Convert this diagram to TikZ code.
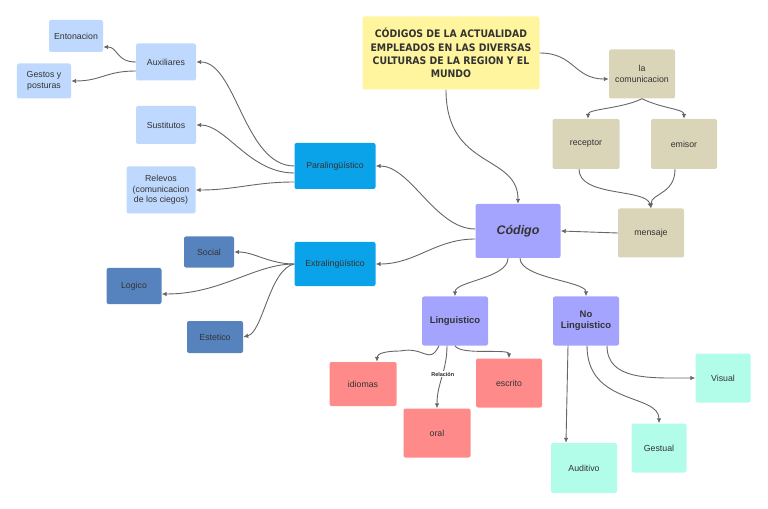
\documentclass[tikz,border=0pt]{standalone}
\usepackage{fontspec}
\setmainfont{Liberation Sans}
\newfontfamily\titlefont{DejaVu Sans Condensed Bold}
\usetikzlibrary{arrows.meta}
\definecolor{lblue}{HTML}{BFD9FE}
\definecolor{cyanbox}{HTML}{0AA2E8}
\definecolor{steel}{HTML}{5683BE}
\definecolor{tanbox}{HTML}{DAD4B8}
\definecolor{violetbox}{HTML}{A4A4FF}
\definecolor{redbox}{HTML}{FF8A8A}
\definecolor{mintbox}{HTML}{B2FCEA}
\definecolor{yellowbox}{HTML}{FFF59E}
\definecolor{edgecol}{HTML}{666666}
\tikzset{
  box/.style={rounded corners=2bp, inner sep=2bp, align=center, text=black!80,
    font=\fontsize{8.8}{10.5}\selectfont},
  lbluebox/.style={box, fill=lblue},
  cyannode/.style={box, fill=cyanbox},
  steelnode/.style={box, fill=steel},
  tannode/.style={box, fill=tanbox},
  violetnode/.style={box, fill=violetbox, font=\bfseries\fontsize{9.5}{11.5}\selectfont},
  rednode/.style={box, fill=redbox},
  mintnode/.style={box, fill=mintbox},
}
\begin{document}
\begin{tikzpicture}[x=1bp,y=-1bp,>={Latex[length=5bp,width=4.5bp]},line join=bevel]
  \useasboundingbox (0,0) rectangle (768,509);
  % Node: title
  \node[box, fill=yellowbox, minimum width=177bp, minimum height=73bp,
    font=\titlefont\fontsize{10.4}{13.5}\selectfont] (title) at (451,53)
    {CÓDIGOS DE LA ACTUALIDAD\\EMPLEADOS EN LAS DIVERSAS\\CULTURAS DE LA REGION Y EL\\MUNDO};
  % Node: comun
  \node[tannode, minimum width=66bp, minimum height=49bp] (comun) at (642,74) {la\\comunicacion};
  % Node: receptor
  \node[tannode, minimum width=67bp, minimum height=50bp] (receptor) at (586,144) {receptor};
  % Node: emisor
  \node[tannode, minimum width=66bp, minimum height=50bp] (emisor) at (684,144) {emisor};
  % Node: mensaje
  \node[tannode, minimum width=66bp, minimum height=49bp] (mensaje) at (651,233) {mensaje};
  % Node: codigo
  \node[box, fill=violetbox, minimum width=85bp, minimum height=54bp,
    font=\bfseries\itshape\fontsize{12.5}{14}\selectfont] (codigo) at (518,231) {Código};
  % Node: para
  \node[cyannode, minimum width=81bp, minimum height=46bp] (para) at (335,166) {Paralingüístico};
  % Node: extra
  \node[cyannode, minimum width=81bp, minimum height=44bp] (extra) at (335,264) {Extralingüístico};
  % Node: aux
  \node[lbluebox, minimum width=60bp, minimum height=37bp] (aux) at (166,62) {Auxiliares};
  % Node: ento
  \node[lbluebox, minimum width=54bp, minimum height=32bp] (ento) at (76,36) {Entonacion};
  % Node: gestos
  \node[lbluebox, minimum width=54bp, minimum height=35bp] (gestos) at (44,81) {Gestos y\\posturas};
  % Node: sust
  \node[lbluebox, minimum width=60bp, minimum height=38bp] (sust) at (166,125) {Sustitutos};
  % Node: relevos
  \node[lbluebox, minimum width=69bp, minimum height=47bp] (relevos) at (161,190) {Relevos\\(comunicacion\\de los ciegos)};
  % Node: social
  \node[steelnode, minimum width=50bp, minimum height=31bp] (social) at (209,252) {Social};
  % Node: logico
  \node[steelnode, minimum width=55bp, minimum height=36bp] (logico) at (134,286) {Logico};
  % Node: estetico
  \node[steelnode, minimum width=56bp, minimum height=32bp] (estetico) at (215,337) {Estetico};
  % Node: ling
  \node[violetnode, minimum width=66bp, minimum height=49bp] (ling) at (455,321) {Linguistico};
  % Node: noling
  \node[violetnode, minimum width=66bp, minimum height=49bp] (noling) at (586,321) {No\\Linguistico};
  % Node: idiomas
  \node[rednode, minimum width=67bp, minimum height=44bp] (idiomas) at (363,384) {idiomas};
  % Node: escrito
  \node[rednode, minimum width=66bp, minimum height=49bp] (escrito) at (509,383) {escrito};
  % Node: oral
  \node[rednode, minimum width=67bp, minimum height=49bp] (oral) at (437,433) {oral};
  % Node: auditivo
  \node[mintnode, minimum width=66bp, minimum height=50bp] (auditivo) at (584,468) {Auditivo};
  % Node: gestual
  \node[mintnode, minimum width=55bp, minimum height=49bp] (gestual) at (659,448) {Gestual};
  % Node: visual
  \node[mintnode, minimum width=55bp, minimum height=49bp] (visual) at (723,378) {Visual};
  %
  \begin{scope}[draw=edgecol, line width=0.9bp]
  % Edge: title -> codigo
  \draw[->] ([xshift=-5bp]title.south) .. controls +(0,80) and +(0,-50) .. (codigo.north);
  % Edge: title -> comun
  \draw[->] (title.east) .. controls +(35,0) and +(-35,0) .. ([yshift=-5bp]comun.west);
  % Edge: comun -> receptor
  \draw[->] (comun.south) .. controls +(-20,10) and +(0,-10) .. ([xshift=2bp]receptor.north);
  % Edge: comun -> emisor
  \draw[->] (comun.south) .. controls +(20,10) and +(0,-10) .. (emisor.north);
  % Edge: receptor -> mensaje
  \draw[->] ([xshift=-7bp]receptor.south) .. controls +(0,28) and +(-5,-20) .. (mensaje.north);
  % Edge: emisor -> mensaje
  \draw[->] ([xshift=-9bp]emisor.south) .. controls +(0,25) and +(0,-15) .. (mensaje.north);
  % Edge: mensaje -> codigo
  \draw[->] (mensaje.west) -- (codigo.east);
  % Edge: codigo -> para
  \draw[->] ([yshift=2bp]codigo.west) .. controls +(-40,0) and +(35,0) .. (para.east);
  % Edge: codigo -> extra
  \draw[->] ([yshift=-8bp]codigo.west) .. controls +(-40,0) and +(40,0) .. (extra.east);
  % Edge: codigo -> ling
  \draw[->] ([xshift=-10bp]codigo.south) .. controls +(0,20) and +(0,-15) .. (ling.north);
  % Edge: codigo -> noling
  \draw[->] ([xshift=2bp]codigo.south) .. controls +(0,20) and +(0,-15) .. (noling.north);
  % Edge: para -> aux
  \draw[->] (para.west) .. controls +(-50,0) and +(40,0) .. (aux.east);
  % Edge: para -> sust
  \draw[->] ([yshift=-7bp]para.west) .. controls +(-45,0) and +(30,0) .. (sust.east);
  % Edge: para -> relevos
  \draw[->] ([yshift=-16bp]para.west) .. controls +(-40,0) and +(40,0) .. (relevos.east);
  % Edge: aux -> ento
  \draw[->] (aux.west) .. controls +(-20,0) and +(15,0) .. ([yshift=-11bp]ento.east);
  % Edge: aux -> gestos
  \draw[->] ([yshift=-9bp]aux.west) .. controls +(-30,0) and +(30,0) .. (gestos.east);
  % Edge: extra -> social
  \draw[->] (extra.west) .. controls +(-25,0) and +(20,0) .. (social.east);
  % Edge: extra -> logico
  \draw[->] (extra.west) .. controls +(-40,0) and +(60,0) .. ([yshift=-8bp]logico.east);
  % Edge: extra -> estetico
  \draw[->] (extra.west) .. controls +(-25,5) and +(20,-5) .. (estetico.east);
  % Edge: ling -> idiomas
  \draw[->] ([xshift=-16bp]ling.south) .. controls +(-10,20) and +(25,-5) .. (400,351)
    .. controls +(-15,0) and +(0,-8) .. ([xshift=14bp]idiomas.north);
  % Edge: ling -> oral
  \draw[->] ([xshift=-8bp]ling.south) .. controls +(0,25) and +(0,-25) .. (oral.north)
    node[pos=0.45, fill=white, inner sep=1bp, text=black!85,
      font=\bfseries\fontsize{5.5}{6}\selectfont] (rel) {Relación};
  % Edge: ling -> escrito
  \draw[->] (ling.south) .. controls +(5,10) and +(0,-10) .. (escrito.north);
  % Edge: noling -> auditivo
  \draw[->] ([xshift=-18bp]noling.south) -- ([xshift=-18bp]auditivo.north);
  % Edge: noling -> gestual
  \draw[->] ([xshift=1bp]noling.south) .. controls +(0,60) and +(0,-30) .. (gestual.north);
  % Edge: noling -> visual
  \draw[->] ([xshift=21bp]noling.south) .. controls +(0,35) and +(-45,0) .. (visual.west);
  \end{scope}
%
\end{tikzpicture}
\end{document}
